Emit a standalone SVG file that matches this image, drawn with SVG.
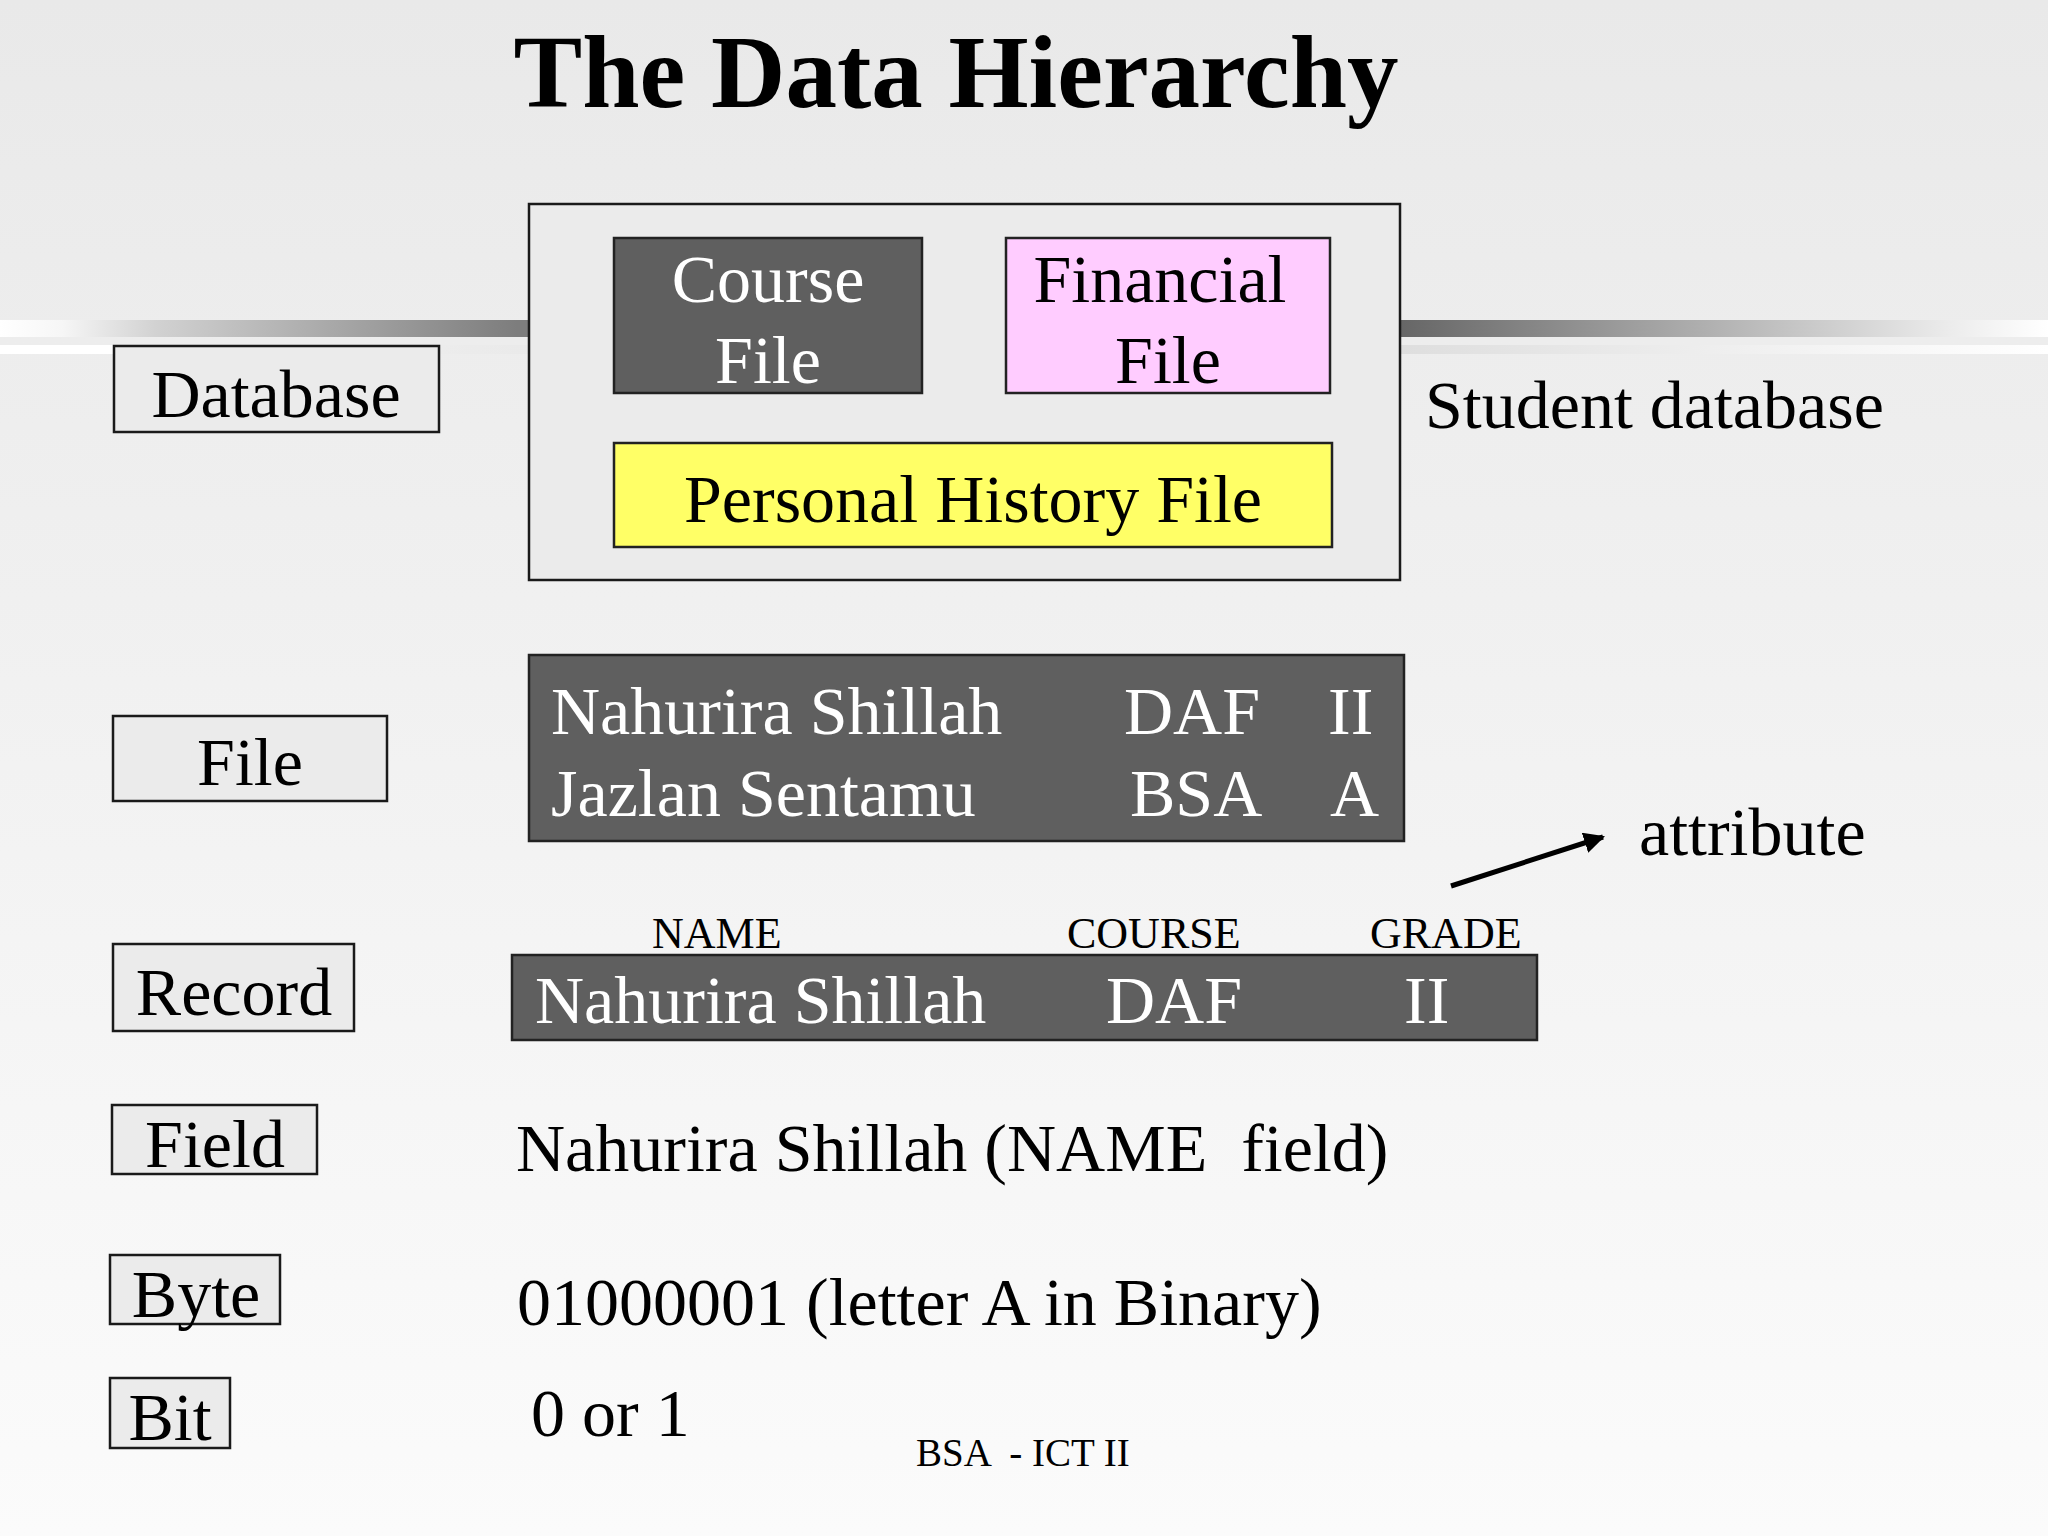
<svg xmlns="http://www.w3.org/2000/svg" width="2048" height="1536" viewBox="0 0 2048 1536">
<style>
text{font-family:"Liberation Serif","Times New Roman",serif;fill:#000;white-space:pre}
.lbl{fill:#ebebeb;stroke:#1a1a1a;stroke-width:2.5}
.dark{fill:#5f5f5f;stroke:#222;stroke-width:2.5}
.w{fill:#fff}
.t68{font-size:68px}
.hdr{font-size:44px}
</style>
<defs>
<linearGradient id="bg" x1="0" y1="0" x2="0" y2="1">
<stop offset="0" stop-color="#e9e9e9"/>
<stop offset="1" stop-color="#fbfbfb"/>
</linearGradient>
<linearGradient id="barL" x1="0" y1="0" x2="517" y2="0" gradientUnits="userSpaceOnUse">
<stop offset="0" stop-color="#ffffff"/>
<stop offset="0.12" stop-color="#f6f6f6"/>
<stop offset="0.3" stop-color="#d2d2d2"/>
<stop offset="1" stop-color="#7d7d7d"/>
</linearGradient>
<linearGradient id="barL2" x1="0" y1="0" x2="517" y2="0" gradientUnits="userSpaceOnUse">
<stop offset="0" stop-color="#ffffff"/>
<stop offset="0.3" stop-color="#ffffff"/>
<stop offset="1" stop-color="#e6e6e6" stop-opacity="0.4"/>
</linearGradient>
<linearGradient id="barR" x1="1400" y1="0" x2="2048" y2="0" gradientUnits="userSpaceOnUse">
<stop offset="0" stop-color="#666666"/>
<stop offset="0.5" stop-color="#b4b4b4"/>
<stop offset="0.85" stop-color="#ececec"/>
<stop offset="1" stop-color="#ffffff"/>
</linearGradient>
<linearGradient id="barR2" x1="1400" y1="0" x2="2048" y2="0" gradientUnits="userSpaceOnUse">
<stop offset="0" stop-color="#dedede"/>
<stop offset="0.6" stop-color="#f2f2f2"/>
<stop offset="1" stop-color="#ffffff"/>
</linearGradient>
<marker id="ah" viewBox="0 0 10 10" refX="9" refY="5" markerWidth="4.2" markerHeight="4.2" orient="auto" markerUnits="strokeWidth">
<path d="M0,0 L10,5 L0,10 Z" fill="#000"/>
</marker>
</defs>
<rect x="0" y="0" width="2048" height="1536" fill="url(#bg)"/>
<g id="bars">
<rect x="0" y="320" width="529" height="17" fill="url(#barL)"/>
<rect x="0" y="345" width="529" height="9" fill="url(#barL2)"/>
<rect x="1400" y="320" width="648" height="17" fill="url(#barR)"/>
<rect x="1400" y="345" width="648" height="9" fill="url(#barR2)"/>
</g>
<g id="title"><text x="956" y="107" text-anchor="middle" font-size="103" font-weight="bold">The Data Hierarchy</text></g>

<g id="lbl-database"><rect class="lbl" x="114" y="346" width="325" height="86"/><text class="t68" x="276" y="417" text-anchor="middle">Database</text></g>
<g id="lbl-file"><rect class="lbl" x="113" y="716" width="274" height="85"/><text class="t68" x="250" y="785" text-anchor="middle">File</text></g>
<g id="lbl-record"><rect class="lbl" x="113" y="944" width="241" height="87"/><text class="t68" x="234" y="1015" text-anchor="middle">Record</text></g>
<g id="lbl-field"><rect class="lbl" x="112" y="1105" width="205" height="69"/><text class="t68" x="215" y="1167" text-anchor="middle">Field</text></g>
<g id="lbl-byte"><rect class="lbl" x="110" y="1255" width="170" height="69"/><text class="t68" x="196" y="1317" text-anchor="middle">Byte</text></g>
<g id="lbl-bit"><rect class="lbl" x="110" y="1378" width="120" height="70"/><text class="t68" x="170" y="1440" text-anchor="middle">Bit</text></g>

<g id="database-box">
<rect x="529" y="204" width="871" height="376" fill="#ebebeb" stroke="#1a1a1a" stroke-width="2.5"/>
</g>
<g id="course-file"><rect class="dark" x="614" y="238" width="308" height="155"/><text class="t68 w" x="768" y="302" text-anchor="middle">Course</text><text class="t68 w" x="768" y="383" text-anchor="middle">File</text></g>
<g id="financial-file"><rect x="1006" y="238" width="324" height="155" fill="#ffccff" stroke="#222" stroke-width="2.5"/><text class="t68" x="1160" y="302" text-anchor="middle">Financial</text><text class="t68" x="1168" y="383" text-anchor="middle">File</text></g>
<g id="personal-file"><rect x="614" y="443" width="718" height="104" fill="#ffff66" stroke="#222" stroke-width="2.5"/><text class="t68" x="973" y="522" text-anchor="middle">Personal History File</text></g>
<g id="student-db"><text class="t68" x="1425" y="428">Student database</text></g>

<g id="file-data"><rect class="dark" x="529" y="655" width="875" height="186"/>
<text class="t68 w" x="551" y="734">Nahurira Shillah</text><text class="t68 w" x="1124" y="734">DAF</text><text class="t68 w" x="1328" y="734">II</text>
<text class="t68 w" x="551" y="816">Jazlan Sentamu</text><text class="t68 w" x="1130" y="816">BSA</text><text class="t68 w" x="1330" y="816">A</text>
</g>

<g id="record-headers"><text class="hdr" x="652" y="948">NAME</text><text class="hdr" x="1067" y="948">COURSE</text><text class="hdr" x="1370" y="948">GRADE</text></g>
<g id="record-data"><rect class="dark" x="512" y="955" width="1025" height="85"/>
<text class="t68 w" x="535" y="1023">Nahurira Shillah</text><text class="t68 w" x="1106" y="1023">DAF</text><text class="t68 w" x="1404" y="1023">II</text>
</g>

<g id="connectors"><line x1="1451" y1="886" x2="1603" y2="837" stroke="#000" stroke-width="5" marker-end="url(#ah)"/></g>
<g id="attribute"><text class="t68" x="1639" y="855">attribute</text></g>

<g id="field-text"><text class="t68" x="516" y="1171">Nahurira Shillah (NAME  field)</text></g>
<g id="byte-text"><text class="t68" x="517" y="1325">01000001 (letter A in Binary)</text></g>
<g id="bit-text"><text class="t68" x="531" y="1436">0 or 1</text></g>
<g id="footer"><text x="916" y="1466" font-size="39">BSA  - ICT II</text></g>
</svg>
